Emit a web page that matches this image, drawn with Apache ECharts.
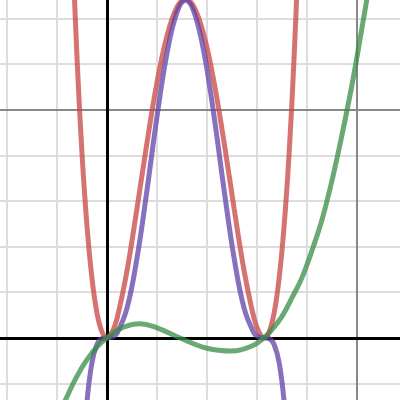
<!DOCTYPE html>
<html>
<head>
<meta charset="utf-8">
<script src="https://cdn.jsdelivr.net/npm/echarts@6/dist/echarts.min.js"></script>
<style>html,body{margin:0;padding:0;background:#fff;overflow:hidden;width:400px;height:400px;position:relative}
#c{position:absolute;left:-43px;top:-27px;width:450px;height:456px}</style>
</head>
<body>
<div id="c"></div>
<script>
// points, [x, y]
var redPts = [[-0.7,8.8],[-0.6,6.15],[-0.5,4.04],[-0.4,2.45],[-0.3,1.3],[-0.2,0.54],[-0.1,0.13],[0,0],
  [0.1,0.12],[0.2,0.42],[0.4,1.47],[0.6,2.84],[0.8,4.28],[1.0,5.6],[1.2,6.62],[1.4,7.25],[1.571,7.43],
  [1.742,7.25],[1.942,6.62],[2.142,5.6],[2.342,4.28],[2.542,2.84],[2.742,1.47],[2.942,0.42],[3.042,0.12],[3.142,0],
  [3.242,0.13],[3.342,0.54],[3.442,1.3],[3.542,2.45],[3.642,4.04],[3.742,6.15],[3.842,8.8]];
var purplePts = [[-0.7,-9.6],[-0.6,-5.6],[-0.5,-2.97],[-0.4,-1.4],[-0.3,-0.54],[-0.2,-0.147],[-0.1,-0.017],[0,0],
  [0.1,0.015],[0.2,0.1],[0.4,0.65],[0.6,1.75],[0.8,3.24],[1.0,4.85],[1.2,6.24],[1.4,7.14],[1.571,7.4],
  [1.742,7.14],[1.942,6.24],[2.142,4.85],[2.342,3.24],[2.542,1.75],[2.742,0.65],[2.942,0.1],[3.042,0.015],[3.142,0],
  [3.242,-0.017],[3.342,-0.147],[3.442,-0.54],[3.542,-1.4],[3.642,-2.97],[3.742,-5.6],[3.842,-9.6]];
var greenPts = [[-1.0,-1.8],[-0.8,-1.29],[-0.6,-0.84],[-0.4,-0.48],[-0.2,-0.2],[0,0],[0.3,0.22],[0.65,0.31],
  [1.0,0.22],[1.45,0],[2.0,-0.23],[2.5,-0.29],[2.9,-0.18],[3.14,0],[3.3,0.18],[3.5,0.47],[3.7,0.88],[3.9,1.32],
  [4.12,1.98],[4.3,2.59],[4.5,3.45],[4.7,4.45],[4.9,5.55],[5.1,6.8],[5.3,8.1],[5.5,9.5]];
var majorX = [5];
var majorY = [5];

function curve(data, color) {
  return {type: 'line', data: data, smooth: 0.4, symbol: 'none', clip: true, z: 10,
    lineStyle: {color: color, width: 5, opacity: 0.75}};
}

var chart = echarts.init(document.getElementById('c'));
var series = [];
series.push({type: 'line', data: [], markLine: {silent: true, symbol: 'none', label: {show: false},
  lineStyle: {color: '#888', width: 2, type: 'solid'},
  data: majorX.map(function (v) { return {xAxis: v}; }).concat(majorY.map(function (v) { return {yAxis: v}; }))}});
series.push({type: 'line', data: [], markLine: {silent: true, symbol: 'none', label: {show: false},
  lineStyle: {color: '#000', width: 3, type: 'solid'}, data: [{xAxis: 0}, {yAxis: 0}]}});
series.push(curve(redPts, '#c74440'), curve(purplePts, '#6042a6'), curve(greenPts, '#388c46'));

chart.setOption({
  animation: false,
  grid: {left: 0, right: 0, top: 0, bottom: 0},
  xAxis: {type: 'value', min: -3, max: 6, interval: 1,
    axisLine: {show: false}, axisTick: {show: false}, axisLabel: {show: false},
    splitLine: {lineStyle: {color: '#ddd', width: 2}}},
  yAxis: {type: 'value', min: -2, max: 8, interval: 1,
    axisLine: {show: false}, axisTick: {show: false}, axisLabel: {show: false},
    splitLine: {lineStyle: {color: '#ddd', width: 2}}},
  series: series
});
</script>
</body>
</html>
